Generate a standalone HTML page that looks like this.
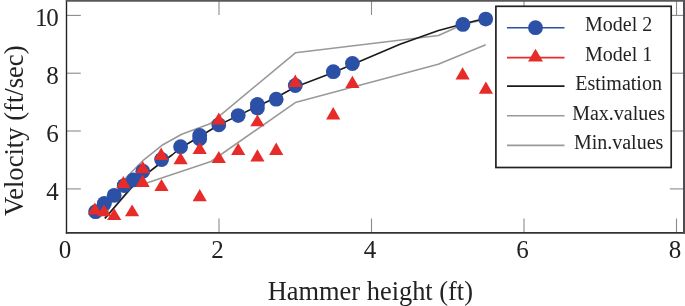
<!DOCTYPE html>
<html><head><meta charset="utf-8"><title>Velocity vs Hammer height</title>
<style>
html,body{margin:0;padding:0;background:#fff;}
svg{display:block;}
text{font-family:"Liberation Serif","DejaVu Serif",serif;fill:#222;}
</style></head><body>
<svg width="685" height="306" viewBox="0 0 685 306">
<rect x="0" y="0" width="685" height="306" fill="#fff"/>
<g stroke="#8a8a8a" stroke-width="1.1" fill="none">
<line x1="219" y1="232" x2="219" y2="218.5"/><line x1="219" y1="1" x2="219" y2="15"/>
<line x1="371.5" y1="232" x2="371.5" y2="218.5"/><line x1="371.5" y1="1" x2="371.5" y2="15"/>
<line x1="524" y1="232" x2="524" y2="218.5"/><line x1="524" y1="1" x2="524" y2="15"/>
<line x1="676.5" y1="232" x2="676.5" y2="218.5"/><line x1="676.5" y1="1" x2="676.5" y2="15"/>
<line x1="67" y1="15.4" x2="80.8" y2="15.4"/><line x1="683" y1="15.4" x2="669.8" y2="15.4"/>
<line x1="67" y1="73.2" x2="80.8" y2="73.2"/><line x1="683" y1="73.2" x2="669.8" y2="73.2"/>
<line x1="67" y1="131" x2="80.8" y2="131"/><line x1="683" y1="131" x2="669.8" y2="131"/>
<line x1="67" y1="188.9" x2="80.8" y2="188.9"/><line x1="683" y1="188.9" x2="669.8" y2="188.9"/>
</g>
<polyline points="105.0,218.0 113.0,199.0 126.7,177.0 143.8,159.8 162.0,145.3 181.7,134.3 201.3,127.0 210.0,123.8 295.4,52.8 438.5,35.5 462.9,24.4 485.7,19.1" fill="none" stroke="#999" stroke-width="1.6" stroke-linejoin="round"/>
<polyline points="105.0,218.0 110.3,212.2 133.6,185.8 137.7,186.0 211.0,161.5 295.3,102.6 438.2,64.3 485.7,44.7" fill="none" stroke="#999" stroke-width="1.6" stroke-linejoin="round"/>
<polyline points="104.9,218.5 118.0,203.0 130.9,188.0 147.0,173.6 158.0,165.0 172.0,155.0 180.6,148.0 199.7,136.5 218.8,125.0 238.2,115.6 257.4,106.2 276.2,97.5 295.3,87.0 333.3,72.5 352.4,64.5 400.0,44.2 438.5,30.6 462.9,24.0 485.7,18.2" fill="none" stroke="#1a1a1a" stroke-width="1.6" stroke-linejoin="round"/>
<g fill="#2d50a7">
<circle cx="95.6" cy="211.7" r="7.4"/>
<circle cx="104.3" cy="203.5" r="7.4"/>
<circle cx="114.2" cy="195.3" r="7.4"/>
<circle cx="124.2" cy="185.6" r="7.4"/>
<circle cx="133.4" cy="179.9" r="7.4"/>
<circle cx="142.8" cy="171.2" r="7.4"/>
<circle cx="161.6" cy="159.5" r="7.4"/>
<circle cx="180.6" cy="146.7" r="7.4"/>
<circle cx="199.7" cy="135.5" r="7.4"/>
<circle cx="199.7" cy="138.8" r="7.4"/>
<circle cx="218.8" cy="124.8" r="7.4"/>
<circle cx="238.2" cy="115.6" r="7.4"/>
<circle cx="257.4" cy="104.5" r="7.4"/>
<circle cx="257.4" cy="108" r="7.4"/>
<circle cx="276.2" cy="99.2" r="7.4"/>
<circle cx="295.3" cy="85.5" r="7.4"/>
<circle cx="333.3" cy="71.7" r="7.4"/>
<circle cx="352.4" cy="63.5" r="7.4"/>
<circle cx="462.9" cy="24.4" r="7.4"/>
<circle cx="485.7" cy="19.1" r="7.4"/>
</g>
<g fill="#e62b28">
<polygon points="94.9,202.4 87.8,214.5 102.0,214.5"/>
<polygon points="104.0,204.4 96.9,216.2 111.1,216.2"/>
<polygon points="114.2,208.2 107.1,219.9 121.3,219.9"/>
<polygon points="132.1,204.4 125.0,216.2 139.2,216.2"/>
<polygon points="123.4,175.9 116.3,188.1 130.5,188.1"/>
<polygon points="142.6,174.6 135.5,187.1 149.7,187.1"/>
<polygon points="142.8,160.9 135.7,173.2 149.9,173.2"/>
<polygon points="161.5,179.1 154.4,190.9 168.6,190.9"/>
<polygon points="199.7,189.0 192.6,201.3 206.8,201.3"/>
<polygon points="161.2,147.4 154.1,159.9 168.3,159.9"/>
<polygon points="180.6,152.3 173.5,164.3 187.7,164.3"/>
<polygon points="199.7,141.9 192.6,153.9 206.8,153.9"/>
<polygon points="218.8,112.6 211.7,124.6 225.9,124.6"/>
<polygon points="218.8,151.1 211.7,162.9 225.9,162.9"/>
<polygon points="238.2,143.1 231.1,154.9 245.3,154.9"/>
<polygon points="257.4,114.6 250.3,126.3 264.5,126.3"/>
<polygon points="257.4,149.3 250.3,161.6 264.5,161.6"/>
<polygon points="276.2,142.6 269.1,154.9 283.3,154.9"/>
<polygon points="295.3,74.4 288.2,87.0 302.4,87.0"/>
<polygon points="333.2,107.1 326.1,119.4 340.3,119.4"/>
<polygon points="352.4,75.7 345.3,88.0 359.5,88.0"/>
<polygon points="462.6,67.3 455.5,79.4 469.7,79.4"/>
<polygon points="485.9,81.5 478.8,93.8 493.0,93.8"/>
</g>
<line x1="66.5" y1="0" x2="66.5" y2="233.6" stroke="#222" stroke-width="1.4"/>
<line x1="65.8" y1="232.8" x2="685" y2="232.8" stroke="#333" stroke-width="1.7"/>
<line x1="684" y1="0" x2="684" y2="233.65" stroke="#4e4e52" stroke-width="2"/>
<line x1="65.8" y1="0.7" x2="685" y2="0.7" stroke="#58585c" stroke-width="1.9"/>
<rect x="495.9" y="6.3" width="175.3" height="161.2" fill="#fff" stroke="#222" stroke-width="1.7"/>
<line x1="507" y1="27.7" x2="564.5" y2="27.7" stroke="#2d50a7" stroke-width="1.6"/><circle cx="535.5" cy="27.7" r="7.4" fill="#2d50a7"/>
<line x1="507" y1="57.6" x2="564.5" y2="57.6" stroke="#e62b28" stroke-width="1.6"/><polygon points="535.5,48.8 528,61.4 543,61.4" fill="#e62b28"/>
<line x1="507" y1="86.2" x2="564.5" y2="86.2" stroke="#1a1a1a" stroke-width="1.8"/>
<line x1="507" y1="115.7" x2="564.5" y2="115.7" stroke="#999" stroke-width="1.6"/>
<line x1="507" y1="145.4" x2="564.5" y2="145.4" stroke="#999" stroke-width="1.6"/>
<g font-size="20" text-anchor="middle">
<text x="618.6" y="31.3">Model 2</text>
<text x="618.6" y="61.2">Model 1</text>
<text x="618.6" y="90">Estimation</text>
<text x="618.6" y="120">Max.values</text>
<text x="618.6" y="149">Min.values</text>
</g>
<g font-size="25" text-anchor="middle">
<text x="64.9" y="258.3">0</text>
<text x="217.4" y="258.3">2</text>
<text x="369.9" y="258.3">4</text>
<text x="522.4" y="258.3">6</text>
<text x="674.9" y="258.3">8</text>
</g><g font-size="25" text-anchor="end" letter-spacing="-1.2">
<text x="57.6" y="26.0">10</text>
<text x="57.6" y="83.8">8</text>
<text x="57.6" y="141.6">6</text>
<text x="57.6" y="199.5">4</text>
</g>
<text x="370.4" y="299.6" font-size="26.4" text-anchor="middle">Hammer height (ft)</text>
<text transform="translate(22.5,130.8) rotate(-90)" font-size="26.6" text-anchor="middle">Velocity (ft/sec)</text>
</svg></body></html>
